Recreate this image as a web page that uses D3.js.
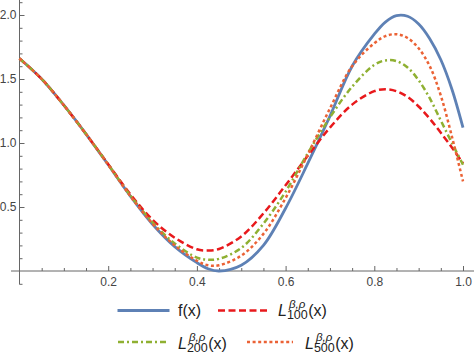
<!DOCTYPE html>
<html>
<head>
<meta charset="utf-8">
<script src="https://cdn.jsdelivr.net/npm/d3@7"></script>
<style>
  html, body { margin: 0; padding: 0; background: #fff; }
  svg { display: block; font-family: "Liberation Sans", Arial, sans-serif; }
</style>
</head>
<body>
<svg id="chart" width="474" height="355"></svg>
<script>
// ---- data ----
const xValues = [0, 0.05, 0.1, 0.15, 0.2, 0.25, 0.3, 0.35, 0.4, 0.425, 0.45, 0.5, 0.55, 0.6, 0.65, 0.7, 0.75, 0.8, 0.825, 0.85, 0.875, 0.9, 0.925, 0.95, 0.975, 1.0];
const fValues    = [1.66, 1.50, 1.295, 1.07, 0.83, 0.585, 0.365, 0.19, 0.065, 0.018, 0.0, 0.045, 0.20, 0.49, 0.84, 1.21, 1.60, 1.85, 1.945, 1.995, 1.99, 1.93, 1.815, 1.65, 1.42, 1.12];
const L100Values = [1.66, 1.50, 1.295, 1.07, 0.835, 0.60, 0.40, 0.26, 0.17, 0.16, 0.172, 0.27, 0.45, 0.67, 0.90, 1.12, 1.30, 1.405, 1.42, 1.405, 1.36, 1.285, 1.19, 1.08, 0.965, 0.84];
const L200Values = [1.66, 1.50, 1.295, 1.07, 0.832, 0.59, 0.38, 0.215, 0.105, 0.088, 0.095, 0.18, 0.37, 0.62, 0.92, 1.20, 1.44, 1.61, 1.645, 1.64, 1.59, 1.49, 1.35, 1.175, 1.0, 0.83];
const L500Values = [1.66, 1.50, 1.295, 1.07, 0.83, 0.585, 0.37, 0.20, 0.08, 0.045, 0.045, 0.12, 0.29, 0.57, 0.91, 1.27, 1.60, 1.78, 1.835, 1.85, 1.82, 1.74, 1.60, 1.37, 1.05, 0.70];

const xMajorTicks = [0.2, 0.4, 0.6, 0.8, 1.0];
const yMajorTicks = [0.5, 1.0, 1.5, 2.0];
const legendSubs = ["100", "200", "500"];

// ---- layout ----
const svg = d3.select("#chart");
const x = d3.scaleLinear().domain([0, 1]).range([19.5, 463]);
const y = d3.scaleLinear().domain([0, 2]).range([271, 15]);

const axisColor = "#666";
const labelColor = "#444";

// x minor ticks every 0.05, y minor every 0.1
const xMinor = d3.range(1, 21).map(i => +(i * 0.05).toFixed(2)).filter(v => !xMajorTicks.some(m => Math.abs(m - v) < 1e-9));
const yMinor = d3.range(-1, 22).map(i => +(i * 0.1).toFixed(1)).filter(v => v !== 0 && !yMajorTicks.some(m => Math.abs(m - v) < 1e-9));

// axis lines
svg.append("line").attr("x1", 11).attr("x2", 474).attr("y1", y(0)).attr("y2", y(0))
  .attr("stroke", axisColor).attr("stroke-width", 1);
svg.append("line").attr("x1", x(0)).attr("x2", x(0)).attr("y1", 0).attr("y2", y(-0.105))
  .attr("stroke", axisColor).attr("stroke-width", 1);

// x axis
const gxMinor = svg.append("g").attr("transform", `translate(0,${y(0)})`)
  .call(d3.axisBottom(x).tickValues(xMinor).tickSize(-3).tickFormat(""));
const gx = svg.append("g").attr("transform", `translate(0,${y(0)})`)
  .call(d3.axisBottom(x).tickValues(xMajorTicks).tickSize(-5).tickPadding(6).tickFormat(d3.format(".1f")));
// y axis
const gyMinor = svg.append("g").attr("transform", `translate(${x(0)},0)`)
  .call(d3.axisLeft(y).tickValues(yMinor).tickSize(-3).tickFormat(""));
const gy = svg.append("g").attr("transform", `translate(${x(0)},0)`)
  .call(d3.axisLeft(y).tickValues(yMajorTicks).tickSize(-5).tickPadding(3).tickFormat(d3.format(".1f")));

[gxMinor, gx, gyMinor, gy].forEach(g => {
  g.select(".domain").remove();
  g.selectAll(".tick line").attr("stroke", axisColor);
  g.selectAll(".tick text").attr("fill", labelColor).attr("font-size", 12)
    .attr("font-family", "'Liberation Sans', Arial, sans-serif");
});

// ---- series ----
const series = [
  { name: "f",    values: fValues,    color: "#5E81B5", width: 2.8, dash: null },
  { name: "L100", values: L100Values, color: "#E8191C", width: 2.5, dash: "7,3.5" },
  { name: "L200", values: L200Values, color: "#8FB032", width: 2.5, dash: "6,3,2,3" },
  { name: "L500", values: L500Values, color: "#EB6235", width: 2.5, dash: "3,2.6" }
];

const line = d3.line()
  .x(d => x(d[0]))
  .y(d => y(d[1]))
  .curve(d3.curveCatmullRom.alpha(0.5));

series.forEach(s => {
  svg.append("path")
    .datum(xValues.map((xv, i) => [xv, s.values[i]]))
    .attr("fill", "none")
    .attr("stroke", s.color)
    .attr("stroke-width", s.width)
    .attr("stroke-dasharray", s.dash)
    .attr("d", line);
});

// ---- legend ----
const legendFont = 16;
const supFont = 11.5;
const subFont = 12.5;
const legendItems = [
  { s: series[0], lx1: 117.5, lx2: 169.5, ly: 310.5, tx: 178, ty: 316, sub: null },
  { s: series[1], lx1: 218,   lx2: 267,   ly: 310.5, tx: 278, ty: 316, sub: legendSubs[0] },
  { s: series[2], lx1: 118,   lx2: 167,   ly: 342,   tx: 178, ty: 348.5, sub: legendSubs[1] },
  { s: series[3], lx1: 247,   lx2: 293,   ly: 342,   tx: 305, ty: 348.5, sub: legendSubs[2] }
];

function measure(str, size, italic) {
  const t = svg.append("text").attr("font-size", size).attr("font-style", italic ? "italic" : "normal").text(str);
  const w = t.node().getComputedTextLength();
  t.remove();
  return w;
}

legendItems.forEach(it => {
  const g = svg.append("g");
  g.append("line").attr("x1", it.lx1).attr("x2", it.lx2).attr("y1", it.ly).attr("y2", it.ly)
    .attr("stroke", it.s.color).attr("stroke-width", it.s.width)
    .attr("stroke-dasharray", it.s.dash);
  const t = g.append("text").attr("x", it.tx).attr("y", it.ty).attr("font-size", legendFont).attr("fill", "#222");
  if (!it.sub) {
    t.text("f(x)");
  } else {
    const supW = measure("β,ρ", supFont, true);
    const subW = measure(it.sub, subFont, false);
    t.append("tspan").attr("font-style", "italic").text("L");
    t.append("tspan").attr("font-style", "italic").attr("font-size", supFont)
      .attr("dx", 2).attr("dy", -8).text("β,ρ");
    t.append("tspan").attr("font-size", subFont)
      .attr("dx", -(supW + 2)).attr("dy", 11).text(it.sub);
    const w = Math.max(supW + 2, subW);
    t.append("tspan").attr("dx", w - subW + 0.5).attr("dy", -3).text("(x)");
  }
});
</script>
</body>
</html>
